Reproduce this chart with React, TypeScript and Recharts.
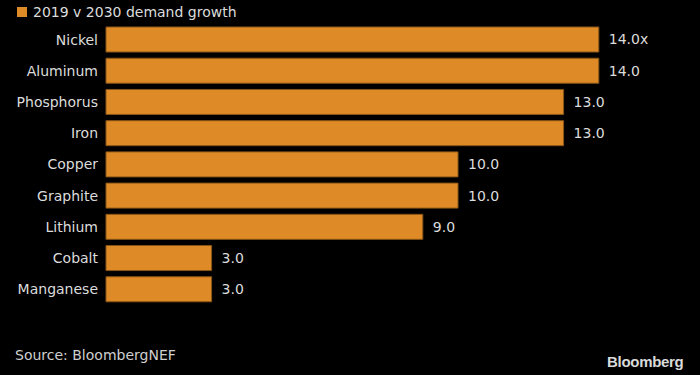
import React from "react";
import { BarChart, Bar, XAxis, YAxis, LabelList } from "recharts";

const categories = ["Nickel", "Aluminum", "Phosphorus", "Iron", "Copper", "Graphite", "Lithium", "Cobalt", "Manganese"];
const growth = [14.0, 14.0, 13.0, 13.0, 10.0, 10.0, 9.0, 3.0, 3.0];
const valueLabels = ["14.0x", "14.0", "13.0", "13.0", "10.0", "10.0", "9.0", "3.0", "3.0"];

const data = categories.map((name, i) => ({ name, value: growth[i], label: valueLabels[i] }));

const FONT = "'DejaVu Sans', sans-serif";
const ORANGE = "#de8a26";

export default function App() {
  return (
    <div style={{ position: "absolute", left: 0, top: 0, width: 700, height: 375, background: "#000", overflow: "hidden", fontFamily: FONT }}>
      <div style={{ position: "absolute", left: 17, top: 7, width: 10, height: 10, background: ORANGE }} />
      <div style={{ position: "absolute", left: 33, top: 2, fontSize: 14, lineHeight: "20px", color: "#dcdcdc", whiteSpace: "nowrap" }}>
        2019 v 2030 demand growth
      </div>
      <BarChart
        width={700}
        height={375}
        data={data}
        layout="vertical"
        margin={{ top: 24, right: 66, bottom: 70, left: 0 }}
        barCategoryGap={6}
      >
        <XAxis type="number" domain={[0, 15]} hide />
        <YAxis
          type="category"
          dataKey="name"
          width={106}
          axisLine={false}
          tickLine={false}
          tick={{ fill: "#dcdcdc", fontSize: 14, fontFamily: FONT }}
        />
        <Bar dataKey="value" fill={ORANGE} stroke="#8a5518" strokeWidth={1} barSize={25} isAnimationActive={false}>
          <LabelList dataKey="label" position="right" offset={10} fill="#dcdcdc" fontSize={14} fontFamily={FONT} />
        </Bar>
      </BarChart>
      <div style={{ position: "absolute", left: 15, top: 345, fontSize: 14, lineHeight: "20px", color: "#cfcfcf", whiteSpace: "nowrap" }}>
        Source: BloombergNEF
      </div>
      <div style={{ position: "absolute", left: 607, top: 352, fontSize: 15, lineHeight: "20px", color: "#dadada", fontWeight: "bold", fontFamily: "'Liberation Sans', Arial, sans-serif", letterSpacing: "-0.3px", whiteSpace: "nowrap" }}>
        Bloomberg
      </div>
    </div>
  );
}
